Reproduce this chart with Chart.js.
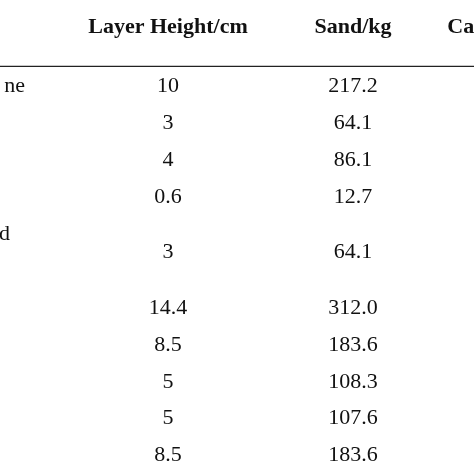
<!DOCTYPE html>
<html><head><meta charset="utf-8">
<script src="https://cdn.jsdelivr.net/npm/chart.js@4"></script>
<style>html,body{margin:0;padding:0;background:#fff}#w{width:474px;height:474px}</style>
</head><body><div id="w"><canvas id="c"></canvas></div>
<script>
const headers = ["Layer Height/cm", "Sand/kg", "Ca"];
const rowLabels = ["ne", "", "", "", "d", "", "", "", "", ""];
const layerHeight = ["10", "3", "4", "0.6", "3", "14.4", "8.5", "5", "5", "8.5"];
const sand = ["217.2", "64.1", "86.1", "12.7", "64.1", "312.0", "183.6", "108.3", "107.6", "183.6"];
const rowIndex = [0, 1, 2, 3, 4.5, 6, 7, 8, 9, 10];

const font = '"Liberation Serif", "DejaVu Serif", serif';
const tablePlugin = {
  id: 'table',
  afterDatasetsDraw(chart) {
    const ctx = chart.ctx, xs = chart.scales.x, ys = chart.scales.y;
    ctx.save();
    ctx.fillStyle = '#111';
    ctx.textBaseline = 'middle';
    ctx.font = 'bold 22px ' + font;
    ctx.textAlign = 'center';
    const hy = ys.getPixelForValue(-1.6);
    ctx.fillText(headers[0], xs.getPixelForValue(1), hy);
    ctx.fillText(headers[1], xs.getPixelForValue(2), hy);
    ctx.textAlign = 'left';
    ctx.fillText(headers[2], xs.getPixelForValue(2.51), hy);
    ctx.strokeStyle = '#222'; ctx.lineWidth = 1.2;
    const ly = ys.getPixelForValue(-0.55);
    ctx.beginPath(); ctx.moveTo(0, ly); ctx.lineTo(474, ly); ctx.stroke();
    ctx.font = '22px ' + font;
    rowIndex.forEach((r, i) => {
      const y = ys.getPixelForValue(r);
      ctx.textAlign = 'center';
      ctx.fillText(layerHeight[i], xs.getPixelForValue(1), y);
      ctx.fillText(sand[i], xs.getPixelForValue(2), y);
      if (rowLabels[i]) {
        ctx.textAlign = 'right';
        const ry = r === 4.5 ? ys.getPixelForValue(4) : y;
        const rx = r === 4.5 ? xs.getPixelForValue(0.146) : xs.getPixelForValue(0.227);
        ctx.fillText(rowLabels[i], rx, ry);
      }
    });
    ctx.restore();
  }
};
new Chart(document.getElementById('c'), {
  type: 'scatter',
  data: { datasets: [{ data: rowIndex.map((r) => ({ x: 1, y: r })), pointRadius: 0 }] },
  options: {
    responsive: true, maintainAspectRatio: false, animation: false,
    layout: { padding: 0 },
    plugins: { legend: { display: false }, tooltip: { enabled: false } },
    scales: {
      x: { display: false, min: 0.092, max: 2.654 },
      y: { display: false, min: -2.35, max: 10.5, reverse: true }
    }
  },
  plugins: [tablePlugin]
});
</script></body></html>
